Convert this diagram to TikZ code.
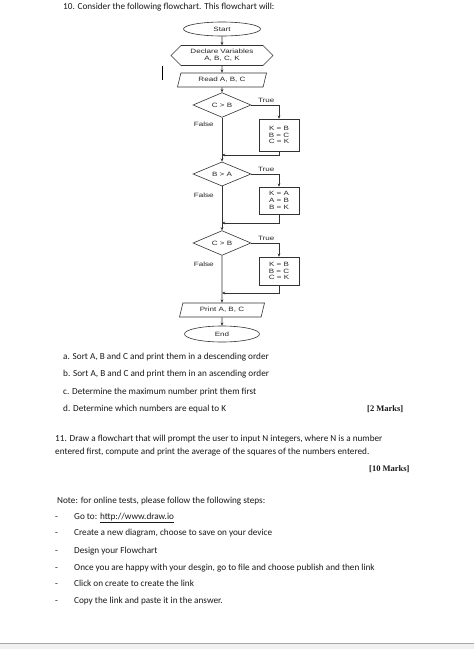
\documentclass[tikz,border=0pt]{standalone}
\usepackage{fontspec}
\setmainfont{Carlito}
\newfontfamily\chartfont[FakeStretch=1.3]{Liberation Sans}
\newfontfamily\marksfont{Liberation Serif}
\usetikzlibrary{shapes.geometric,shapes.symbols,arrows.meta,positioning}

\begin{document}
\begin{tikzpicture}[x=1pt, y=-1pt, >={Stealth[length=3.2pt,width=2.8pt]},
    txt/.style={anchor=base west, inner sep=0pt, font=\fontsize{9.2}{11}\selectfont, text=black!90},
    marks/.style={anchor=base west, inner sep=0pt, font=\marksfont\bfseries\fontsize{8.5}{10}\selectfont, text=black!90},
    chart/.style={draw=black!80, line width=0.6pt, font=\chartfont\fontsize{6.2}{6.8}\selectfont, text=black!85, inner sep=1pt},
    terminal/.style={chart, ellipse, minimum width=77pt, minimum height=14pt},
    prep/.style={chart, signal, signal to=east and west, minimum width=102pt, minimum height=20pt, align=center},
    io/.style={chart, trapezium, trapezium left angle=65, trapezium right angle=115, trapezium stretches body, minimum width=89pt, minimum height=14pt},
    decision/.style={chart, diamond, minimum width=58pt, minimum height=20pt, inner sep=0pt},
    swapbox/.style={chart, rectangle, minimum width=40pt, minimum height=28pt, align=center},
    lbl/.style={font=\chartfont\fontsize{6.2}{6.8}\selectfont, text=black!85, inner sep=0pt},
    flow/.style={draw=black!80, line width=0.6pt, ->}]

  \fill[white] (0,0) rectangle (474,649);
  \useasboundingbox (0,0) rectangle (474,649);

  % question 10
  \node[txt] (q10) at (63,9.5) {10. Consider the following flowchart. This flowchart will:};

  % flowchart
  \node[terminal] (start) at (222,29) {Start};
  \node[prep] (declare) at (222,55.5) {Declare Variables\\A, B, C, K};
  \node[io] (read) at (222,80) {Read A, B, C};
  \node[decision] (cb1) at (222,105) {C > B};
  \node[swapbox, minimum height=32pt] (swap1) at (279,135) {K = B\\B = C\\C = K};
  \node[decision] (ba) at (222,174) {B > A};
  \node[swapbox, minimum height=27pt] (swap2) at (279,200.5) {K = A\\A = B\\B = K};
  \node[decision] (cb2) at (222,243) {C > B};
  \node[swapbox] (swap3) at (279,271) {K = B\\B = C\\C = K};
  \node[io, minimum width=85pt] (print) at (222,310) {Print A, B, C};
  \node[terminal, minimum width=75pt, minimum height=16pt] (end) at (222,334) {End};

  \coordinate (join1) at (222,155);
  \coordinate (join2) at (222,223);
  \coordinate (join3) at (222,293);

  \draw[flow] (start) -- (declare);
  \draw[flow] (declare) -- (read);
  \draw[flow] (read) -- (cb1);
  \draw[flow] (cb1.east) -| node[lbl, pos=0.27, above=2pt] {True} (swap1.north);
  \draw[flow] (swap1.south) |- (join1);
  \draw[flow] (cb1.south) -- node[lbl, pos=0.16, left=8pt] {False} (ba.north);
  \draw[flow] (ba.east) -| node[lbl, pos=0.27, above=2pt] {True} (swap2.north);
  \draw[flow] (swap2.south) |- (join2);
  \draw[flow] (ba.south) -- node[lbl, pos=0.2, left=8pt] {False} (cb2.north);
  \draw[flow] (cb2.east) -| node[lbl, pos=0.27, above=2pt] {True} (swap3.north);
  \draw[flow] (swap3.south) |- (join3);
  \draw[flow] (cb2.south) -- node[lbl, pos=0.19, left=8pt] {False} (print.north);
  \draw[flow] (print) -- (end);

  % text cursor
  \draw[line width=0.9pt] (162,66) -- (162,80);

  % answers
  \node[txt] (ansa) at (63,359.5) {a. Sort A, B and C and print them in a descending order};
  \node[txt] (ansb) at (63,376.5) {b. Sort A, B and C and print them in an ascending order};
  \node[txt] (ansc) at (63,394) {c. Determine the maximum number print them first};
  \node[txt] (ansd) at (63,411.5) {d. Determine which numbers are equal to K};
  \node[marks] (marks2) at (367,411.5) {[2 Marks]};

  % question 11
  \node[txt] (q11a) at (55,441.5) {11. Draw a flowchart that will prompt the user to input N integers, where N is a number};
  \node[txt] (q11b) at (55,454.5) {entered first, compute and print the average of the squares of the numbers entered.};
  \node[marks] (marks10) at (369,471) {[10 Marks]};

  % note
  \node[txt] (note) at (57,503.5) {Note: for online tests, please follow the following steps:};
  \foreach \y/\s in {519.5/{Go to: \underline{http://www.draw.io}},
                     535.5/{Create a new diagram, choose to save on your device},
                     553/{Design your Flowchart},
                     570.5/{Once you are happy with your desgin, go to file and choose publish and then link},
                     586.5/{Click on create to create the link},
                     603.5/{Copy the link and paste it in the answer.}} {
    \node[txt] at (55,\y) {-};
    \node[txt] at (74,\y) {\s};
  }

  % page edge
  \fill[gray!12] (0,643) rectangle (474,649);
  \draw[gray!70, line width=0.8pt] (0,643) -- (474,643);
\end{tikzpicture}
\end{document}
